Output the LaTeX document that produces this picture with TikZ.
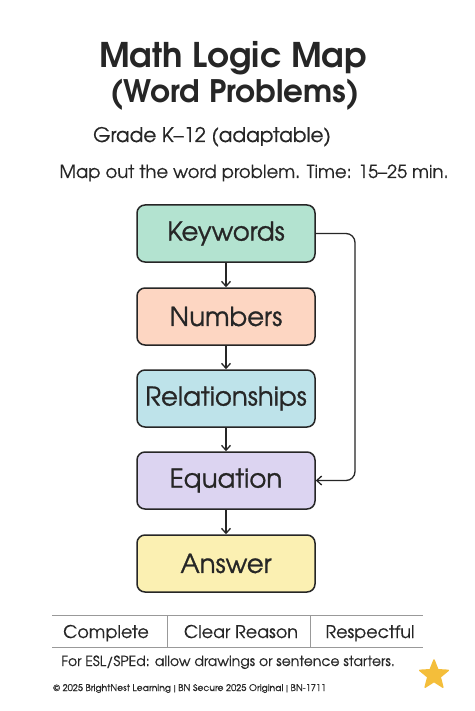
\documentclass[tikz,border=0pt]{standalone}
\usepackage{fontspec}
\setmainfont{TeX Gyre Adventor}
\newfontfamily\boxfont[FakeBold=1]{TeX Gyre Adventor}
\newfontfamily\midfont[FakeBold=0.5]{TeX Gyre Adventor}
\usetikzlibrary{arrows.meta,shapes.geometric}
\definecolor{kw}{HTML}{B3E3D0}
\definecolor{nu}{HTML}{FDD6C2}
\definecolor{re}{HTML}{BEE3EA}
\definecolor{eq}{HTML}{DCD4F1}
\definecolor{an}{HTML}{FBF0B2}
\definecolor{ink}{HTML}{262626}
\definecolor{gold}{HTML}{F4BE3A}
\tikzset{
  stepbox/.style={draw=ink,line width=1.5pt,rounded corners=8pt,minimum width=178pt,minimum height=57pt,font=\boxfont\fontsize{26}{30}\selectfont,text=ink},
  flow/.style={draw=ink,line width=1.3pt,-{Straight Barb[length=5pt,width=9pt]}},
  rule/.style={draw=gray!80,line width=1pt},
  cell/.style={font=\midfont\fontsize{17.5}{21}\selectfont,text=ink,anchor=base}
}
\begin{document}
\begin{tikzpicture}[x=1pt,y=-1pt]
\useasboundingbox[fill=white] (0,0) rectangle (474,711);
\node[font=\bfseries\fontsize{34}{38}\selectfont,text=ink,anchor=base] (t1) at (233,68) {Math Logic Map};
\node[font=\bfseries\fontsize{31}{35}\selectfont,text=ink,anchor=base] (t2) at (235,103) {(Word Problems)};
\node[font=\midfont\fontsize{20}{24}\selectfont,text=ink,anchor=base] (t3) at (212,142) {Grade K–12 (adaptable)};
\node[font=\midfont\fontsize{18}{22}\selectfont,text=ink,anchor=base] (t4) at (254,178) {Map out the word problem. Time: 15–25 min.};
\node[stepbox,fill=kw] (k) at (226,233.5) {Keywords};
\node[stepbox,fill=nu] (n) at (226,316.5) {Numbers};
\node[stepbox,fill=re] (r) at (226,398.5) {Relationships};
\node[stepbox,fill=eq] (e) at (226,480.5) {Equation};
\node[stepbox,fill=an] (a) at (226,563.5) {Answer};
\draw[flow] (k) -- (n);
\draw[flow] (n) -- (r);
\draw[flow] (r) -- (e);
\draw[flow] (e) -- (a);
\coordinate (c1) at (355,233.5);
\coordinate (c2) at (355,480.5);
\draw[flow,rounded corners=9pt] (k.east) -- (c1) -- (c2) -- (e.east);
\coordinate (l1) at (52,615);
\coordinate (l2) at (423,615);
\coordinate (l3) at (52,647);
\coordinate (l4) at (423,647);
\coordinate (v1) at (167,615);
\coordinate (v2) at (167,647);
\coordinate (v3) at (310,615);
\coordinate (v4) at (310,647);
\draw[rule] (l1) -- (l2);
\draw[rule] (l3) -- (l4);
\draw[rule] (v1) -- (v2);
\draw[rule] (v3) -- (v4);
\node[cell] (c) at (106,638) {Complete};
\node[cell] (cr) at (241,638) {Clear Reason};
\node[cell] (rs) at (370,638) {Respectful};
\node[font=\midfont\fontsize{14}{17}\selectfont,text=ink,anchor=base] (esl) at (228,666) {For ESL/SPEd: allow drawings or sentence starters.};
\node[font=\midfont\fontsize{9.2}{11}\selectfont,text=ink,anchor=base west,inner sep=0pt] (cp) at (53,691) {© 2025 BrightNest Learning | BN Secure 2025 Original | BN-1711};
\node[star,star points=5,star point ratio=2.3,fill=gold,minimum size=30pt,inner sep=0pt,line join=round,draw=gold,line width=1.5pt] (st) at (434,675) {};
\end{tikzpicture}
\end{document}
